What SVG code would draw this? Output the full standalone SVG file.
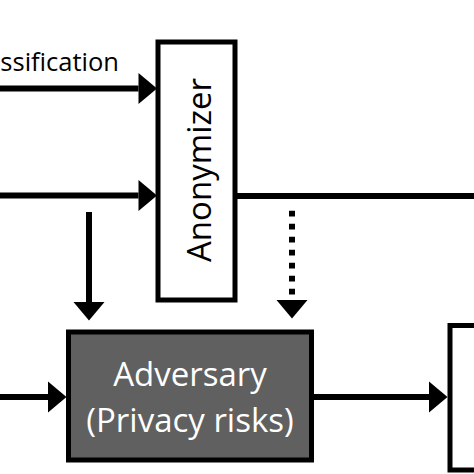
<svg xmlns="http://www.w3.org/2000/svg" width="474" height="474" viewBox="0 0 474 474">
<style>
.ln{stroke:#000;stroke-width:6;fill:none}
.box{stroke:#000;stroke-width:5;fill:#fff}
.txt{font-family:"Open Sans","Noto Sans",sans-serif;font-size:33px;text-anchor:middle}
</style>
<defs>
<marker id="ah" markerUnits="userSpaceOnUse" markerWidth="19" markerHeight="32" refX="0" refY="15.5" orient="auto" viewBox="0 0 19 31" overflow="visible">
<path d="M0,0 L18.5,15.5 L0,31 z" fill="#000"/>
</marker>
</defs>
<rect width="474" height="474" fill="#fff"/>
<g id="connectors">
<line class="ln" x1="-5" y1="88.5" x2="138.5" y2="88.5" marker-end="url(#ah)"/>
<line class="ln" x1="-5" y1="195.5" x2="138.5" y2="195.5" marker-end="url(#ah)"/>
<line class="ln" x1="237" y1="196" x2="480" y2="196"/>
<line class="ln" x1="89" y1="212" x2="89" y2="302" marker-end="url(#ah)"/>
<line class="ln" x1="292" y1="210.7" x2="292" y2="300" stroke-width="6.5" stroke-dasharray="5.7 7.3" marker-end="url(#ah)"/>
<line class="ln" x1="-5" y1="397" x2="48" y2="397" marker-end="url(#ah)"/>
<line class="ln" x1="313" y1="397" x2="429" y2="397" marker-end="url(#ah)"/>
</g>
<text x="119" y="70.5" font-family="Open Sans, Noto Sans, sans-serif" font-size="25.5" text-anchor="end">ssification</text>
<g id="anonymizer">
<rect class="box" x="158" y="42" width="77" height="258"/>
<text class="txt" transform="translate(210.5,170) rotate(-90)">Anonymizer</text>
</g>
<g id="adversary">
<rect x="68.5" y="332" width="243" height="128" fill="#606060" stroke="#000" stroke-width="5"/>
<text class="txt" x="190" y="385.5" fill="#fff">Adversary</text>
<text class="txt" x="190" y="431.5" fill="#fff">(Privacy risks)</text>
</g>
<g id="output">
<rect class="box" x="450" y="325.5" width="100" height="144.5" stroke-width="5.5"/>
</g>
</svg>
